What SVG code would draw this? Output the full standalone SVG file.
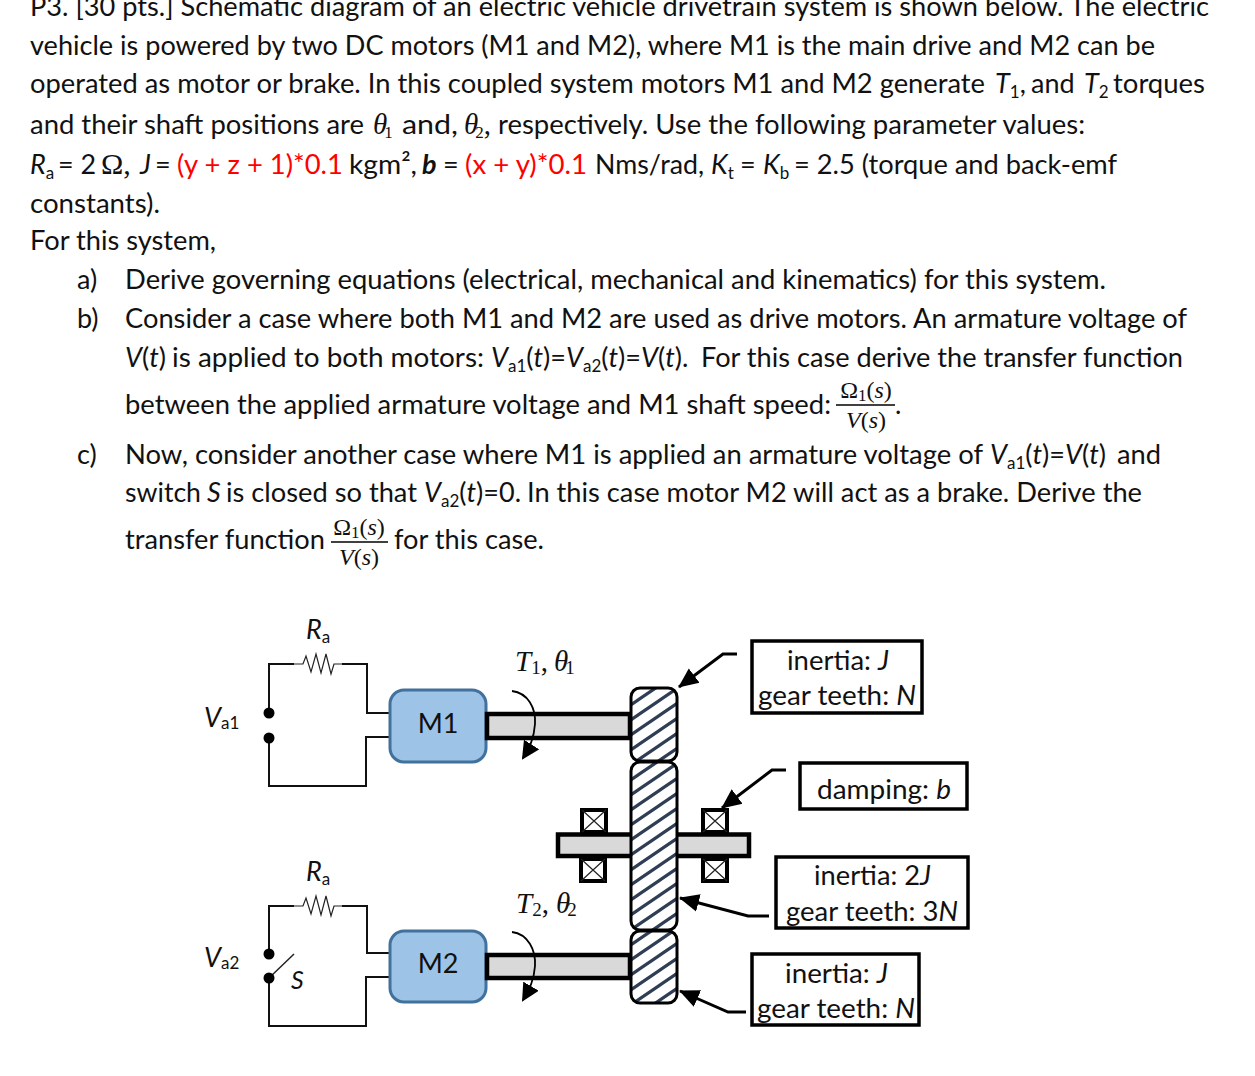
<svg xmlns="http://www.w3.org/2000/svg" width="1255" height="1076" viewBox="0 0 1255 1076">
<style>
text{font-family:"Lato","Open Sans",sans-serif;font-size:27px;fill:#111}
.i{font-style:italic}
.m{font-family:"Liberation Serif",serif;font-style:italic;font-size:29px}
.f{font-family:"Liberation Serif",serif;font-size:24px;font-style:italic}
.r{fill:#f00}
.b{font-weight:bold;font-style:italic}
.w{fill:none;stroke:#111;stroke-width:2}
.motor{fill:#9dc3e6;stroke:#41719c;stroke-width:3}
.shaft{fill:#d9d9d9;stroke:#000;stroke-width:4.5}
.gear{fill:url(#hatch);stroke:#000;stroke-width:3}
.brg{fill:#fff;stroke:#000;stroke-width:4}
.x{stroke:#222;stroke-width:1.2;fill:none}
.box{fill:#fff;stroke:#000;stroke-width:3.5}
.ptr{fill:none;stroke:#000;stroke-width:3;marker-end:url(#ah)}
.rot{fill:none;stroke:#000;stroke-width:1.8;marker-end:url(#ah2)}
.rule{stroke:#000;stroke-width:1.6}
</style>
<defs>
<pattern id="hatch" patternUnits="userSpaceOnUse" width="22" height="15" patternTransform="translate(0,10)">
<rect width="22" height="15" fill="#fff"/>
<path d="M-5.500,18.750L27.500,-3.750M-5.500,3.750L5.500,-3.750M16.500,18.750L27.500,11.250" stroke="#2f3e55" stroke-width="3.200"/>
</pattern>
<marker id="ah" markerUnits="userSpaceOnUse" viewBox="0 0 20 20" refX="19" refY="10" markerWidth="20" markerHeight="20" orient="auto"><path d="M0,1L20,10L0,19Z" fill="#000"/></marker>
<marker id="ah2" markerUnits="userSpaceOnUse" viewBox="0 0 18 18" refX="16" refY="9" markerWidth="18" markerHeight="18" orient="auto"><path d="M0,0L18,9L0,18Z" fill="#000"/></marker>
</defs>
<rect width="1255" height="1076" fill="#fff"/>

<g id="question">
<text x="30" y="16" textLength="1179" lengthAdjust="spacingAndGlyphs">P3. [30 pts.] Schematic diagram of an electric vehicle drivetrain system is shown below. The electric</text>
<text x="30" y="55" textLength="1125" lengthAdjust="spacingAndGlyphs">vehicle is powered by two DC motors (M1 and M2), where M1 is the main drive and M2 can be</text>
<text x="30" y="93" textLength="955" lengthAdjust="spacingAndGlyphs">operated as motor or brake. In this coupled system motors M1 and M2 generate</text>
<text x="995" y="93" class="i">T<tspan font-size="17" dy="5" font-style="normal">1</tspan><tspan dy="-5" font-style="normal">,</tspan></text>
<text x="1031" y="93">and</text>
<text x="1084" y="93" class="i">T<tspan font-size="17" dy="5" font-style="normal">2</tspan></text>
<text x="1113" y="93" textLength="92" lengthAdjust="spacingAndGlyphs">torques</text>
<text x="30" y="134" textLength="334" lengthAdjust="spacingAndGlyphs">and their shaft positions are</text>
<text x="373" y="134" class="m">θ<tspan font-size="17" dy="4" dx="-3" font-style="normal">1</tspan></text>
<text x="402" y="134" textLength="56" lengthAdjust="spacingAndGlyphs">and,</text>
<text x="464" y="134" class="m">θ<tspan font-size="17" dy="4" dx="-3" font-style="normal">2</tspan><tspan dy="-4" font-style="normal">,</tspan></text>
<text x="498" y="134" textLength="587" lengthAdjust="spacingAndGlyphs">respectively. Use the following parameter values:</text>

<text x="30" y="174" class="i">R<tspan font-size="17" dy="5" font-style="normal">a</tspan></text>
<text x="58" y="174" textLength="38" lengthAdjust="spacingAndGlyphs">= 2</text>
<text x="101" y="174" style="font-family:'Liberation Serif',serif;font-size:30px">Ω,</text>
<text x="140" y="174" class="i">J</text>
<text x="155" y="174">=</text>
<text x="177" y="174" class="r" textLength="166" lengthAdjust="spacingAndGlyphs">(y + z + 1)*0.1</text>
<text x="349" y="174" textLength="68" lengthAdjust="spacingAndGlyphs">kgm²,</text>
<text x="422" y="174" class="b">b</text>
<text x="443" y="174">=</text>
<text x="465" y="174" class="r" textLength="122" lengthAdjust="spacingAndGlyphs">(x + y)*0.1</text>
<text x="595" y="174" textLength="109" lengthAdjust="spacingAndGlyphs">Nms/rad,</text>
<text x="711" y="174" class="i">K<tspan font-size="17" dy="5" font-style="normal">t</tspan></text>
<text x="740" y="174">=</text>
<text x="763" y="174" class="i">K<tspan font-size="17" dy="5" font-style="normal">b</tspan></text>
<text x="794" y="174" textLength="323" lengthAdjust="spacingAndGlyphs">= 2.5 (torque and back-emf</text>
<text x="30" y="213" textLength="130" lengthAdjust="spacingAndGlyphs">constants).</text>
<text x="30" y="250" textLength="186" lengthAdjust="spacingAndGlyphs">For this system,</text>

<text x="77" y="289">a)</text>
<text x="125" y="289" textLength="981" lengthAdjust="spacingAndGlyphs">Derive governing equations (electrical, mechanical and kinematics) for this system.</text>
<text x="77" y="328">b)</text>
<text x="125" y="328" textLength="1062" lengthAdjust="spacingAndGlyphs">Consider a case where both M1 and M2 are used as drive motors. An armature voltage of</text>
<text x="125" y="367" class="i">V<tspan font-style="normal">(</tspan>t<tspan font-style="normal">)</tspan></text>
<text x="172" y="367" textLength="312" lengthAdjust="spacingAndGlyphs">is applied to both motors:</text>
<text x="491" y="367" class="i">V<tspan font-size="17" dy="5" font-style="normal">a1</tspan><tspan dy="-5" font-style="normal">(</tspan>t<tspan font-style="normal">)=</tspan>V<tspan font-size="17" dy="5" font-style="normal">a2</tspan><tspan dy="-5" font-style="normal">(</tspan>t<tspan font-style="normal">)=</tspan>V<tspan font-style="normal">(</tspan>t<tspan font-style="normal">).</tspan></text>
<text x="701" y="367" textLength="482" lengthAdjust="spacingAndGlyphs">For this case derive the transfer function</text>
<text x="125" y="414" textLength="706" lengthAdjust="spacingAndGlyphs">between the applied armature voltage and M1 shaft speed:</text>
<text x="866" y="398" text-anchor="middle" class="f"><tspan font-style="normal">Ω</tspan><tspan font-size="17" dy="3" font-style="normal">1</tspan><tspan dy="-3" font-style="normal">(</tspan>s<tspan font-style="normal">)</tspan></text>
<line class="rule" x1="836" y1="405" x2="895" y2="405"/>
<text x="866" y="428" text-anchor="middle" class="f">V<tspan font-style="normal">(</tspan>s<tspan font-style="normal">)</tspan></text>
<text x="895" y="414">.</text>
<text x="77" y="464">c)</text>
<text x="125" y="464" textLength="858" lengthAdjust="spacingAndGlyphs">Now, consider another case where M1 is applied an armature voltage of</text>
<text x="990" y="464" class="i">V<tspan font-size="17" dy="5" font-style="normal">a1</tspan><tspan dy="-5" font-style="normal">(</tspan>t<tspan font-style="normal">)=</tspan>V<tspan font-style="normal">(</tspan>t<tspan font-style="normal">)</tspan></text>
<text x="1117" y="464" textLength="44" lengthAdjust="spacingAndGlyphs">and</text>
<text x="125" y="502" textLength="76" lengthAdjust="spacingAndGlyphs">switch</text>
<text x="207" y="502" class="i">S</text>
<text x="226" y="502" textLength="191" lengthAdjust="spacingAndGlyphs">is closed so that</text>
<text x="424" y="502" class="i">V<tspan font-size="17" dy="5" font-style="normal">a2</tspan><tspan dy="-5" font-style="normal">(</tspan>t<tspan font-style="normal">)=0.</tspan></text>
<text x="527" y="502" textLength="615" lengthAdjust="spacingAndGlyphs">In this case motor M2 will act as a brake. Derive the</text>
<text x="125" y="549" textLength="200" lengthAdjust="spacingAndGlyphs">transfer function</text>
<text x="359" y="535" text-anchor="middle" class="f"><tspan font-style="normal">Ω</tspan><tspan font-size="17" dy="3" font-style="normal">1</tspan><tspan dy="-3" font-style="normal">(</tspan>s<tspan font-style="normal">)</tspan></text>
<line class="rule" x1="331" y1="542" x2="388" y2="542"/>
<text x="359" y="565" text-anchor="middle" class="f">V<tspan font-style="normal">(</tspan>s<tspan font-style="normal">)</tspan></text>
<text x="394" y="549" textLength="150" lengthAdjust="spacingAndGlyphs">for this case.</text>
</g>

<g id="connectors">
<path class="w" d="M269,713V664H294M342,664H367V713H390M269,738V786H366V737H390"/>
<path class="w" d="M269,954V906H294M342,906H367V953H390M269,978V1026H366V977H390"/>
<path d="M294,664H303L306,656L311,672L316,654L321,673L326,654L331,674L334,664H342" fill="none" stroke="#222" stroke-width="1.2"/>
<path d="M294,906H303L306,898L311,914L316,896L321,915L326,896L331,916L334,906H342" fill="none" stroke="#222" stroke-width="1.2"/>
<line x1="269" y1="978" x2="294" y2="954" stroke="#222" stroke-width="1.5"/>
<path class="ptr" d="M737,654H723L679,687"/>
<path class="ptr" d="M786,770H772L722,808"/>
<path class="ptr" d="M769,916H748L680,898"/>
<path class="ptr" d="M746,1012H728L680,991"/>
</g>

<g id="M1"><rect class="motor" x="390" y="690" width="96" height="72" rx="14"/><text x="438" y="733" text-anchor="middle">M1</text></g>
<g id="M2"><rect class="motor" x="390" y="931" width="96" height="71" rx="14"/><text x="438" y="973" text-anchor="middle">M2</text></g>

<g id="shaft-mid"><rect class="shaft" x="558" y="834.500" width="191" height="21.500"/></g>
<g id="bearings">
<g id="bearing-tl"><rect class="brg" x="582" y="810" width="24" height="22"/><path class="x" d="M582,810L606,832M606,810L582,832"/></g>
<g id="bearing-bl"><rect class="brg" x="581" y="859" width="24" height="22"/><path class="x" d="M581,859L605,881M605,859L581,881"/></g>
<g id="bearing-tr"><rect class="brg" x="703" y="810" width="24" height="22"/><path class="x" d="M703,810L727,832M727,810L703,832"/></g>
<g id="bearing-br"><rect class="brg" x="703" y="859" width="24" height="22"/><path class="x" d="M703,859L727,881M727,859L703,881"/></g>
</g>
<g id="shaft-1"><rect class="shaft" x="487" y="714" width="143" height="24"/></g>
<g id="shaft-2"><rect class="shaft" x="487" y="955" width="143" height="23"/></g>
<g id="gear-1"><rect class="gear" x="631" y="688" width="46" height="73" rx="9"/></g>
<g id="gear-2"><rect class="gear" x="631" y="762" width="46" height="168" rx="9"/></g>
<g id="gear-3"><rect class="gear" x="631" y="931" width="46" height="72" rx="9"/></g>
<path class="rot" d="M512,691C528,693 536,708 535,724C534,738 530,747 523,758"/>
<path class="rot" d="M512,932C528,934 536,950 535,966C534,980 530,988 523,1000"/>

<g id="terminals">
<circle cx="269" cy="713" r="5.500" fill="#000"/><circle cx="269" cy="738" r="5.500" fill="#000"/>
<circle cx="269" cy="954" r="5.500" fill="#000"/><circle cx="269" cy="978" r="5.500" fill="#000"/>
</g>
<g id="circuit-labels">
<text x="306" y="639" class="i">R<tspan font-size="17" dy="4" font-style="normal">a</tspan></text>
<text x="306" y="881" class="i">R<tspan font-size="17" dy="4" font-style="normal">a</tspan></text>
<text x="204" y="727" class="i">V<tspan font-size="17" dy="2" font-style="normal">a1</tspan></text>
<text x="204" y="967" class="i">V<tspan font-size="17" dy="2" font-style="normal">a2</tspan></text>
<text x="291" y="989" class="i" style="font-size:25px">S</text>
<text x="515" y="671" class="m">T<tspan font-size="19" dy="3" font-style="normal">1</tspan><tspan dy="-3" font-style="normal">,</tspan><tspan x="554">θ</tspan><tspan font-size="19" dy="3" dx="-3" font-style="normal">1</tspan></text>
<text x="516" y="913" class="m">T<tspan font-size="19" dy="3" font-style="normal">2</tspan><tspan dy="-3" font-style="normal">,</tspan><tspan x="556">θ</tspan><tspan font-size="19" dy="3" dx="-3" font-style="normal">2</tspan></text>
</g>

<g id="box-1"><rect class="box" x="752" y="641" width="170" height="72"/>
<text x="787" y="670" textLength="102" lengthAdjust="spacingAndGlyphs">inertia: <tspan class="i">J</tspan></text>
<text x="758" y="705" textLength="158" lengthAdjust="spacingAndGlyphs">gear teeth: <tspan class="i">N</tspan></text></g>
<g id="box-2"><rect class="box" x="800" y="763" width="167" height="46"/>
<text x="817" y="799" textLength="134" lengthAdjust="spacingAndGlyphs">damping: <tspan class="i">b</tspan></text></g>
<g id="box-3"><rect class="box" x="776" y="857" width="192" height="71"/>
<text x="814" y="885" textLength="117" lengthAdjust="spacingAndGlyphs">inertia: 2<tspan class="i">J</tspan></text>
<text x="786" y="921" textLength="172" lengthAdjust="spacingAndGlyphs">gear teeth: 3<tspan class="i">N</tspan></text></g>
<g id="box-4"><rect class="box" x="752" y="954" width="167" height="71"/>
<text x="785" y="983" textLength="103" lengthAdjust="spacingAndGlyphs">inertia: <tspan class="i">J</tspan></text>
<text x="757" y="1018" textLength="158" lengthAdjust="spacingAndGlyphs">gear teeth: <tspan class="i">N</tspan></text></g>
</svg>
